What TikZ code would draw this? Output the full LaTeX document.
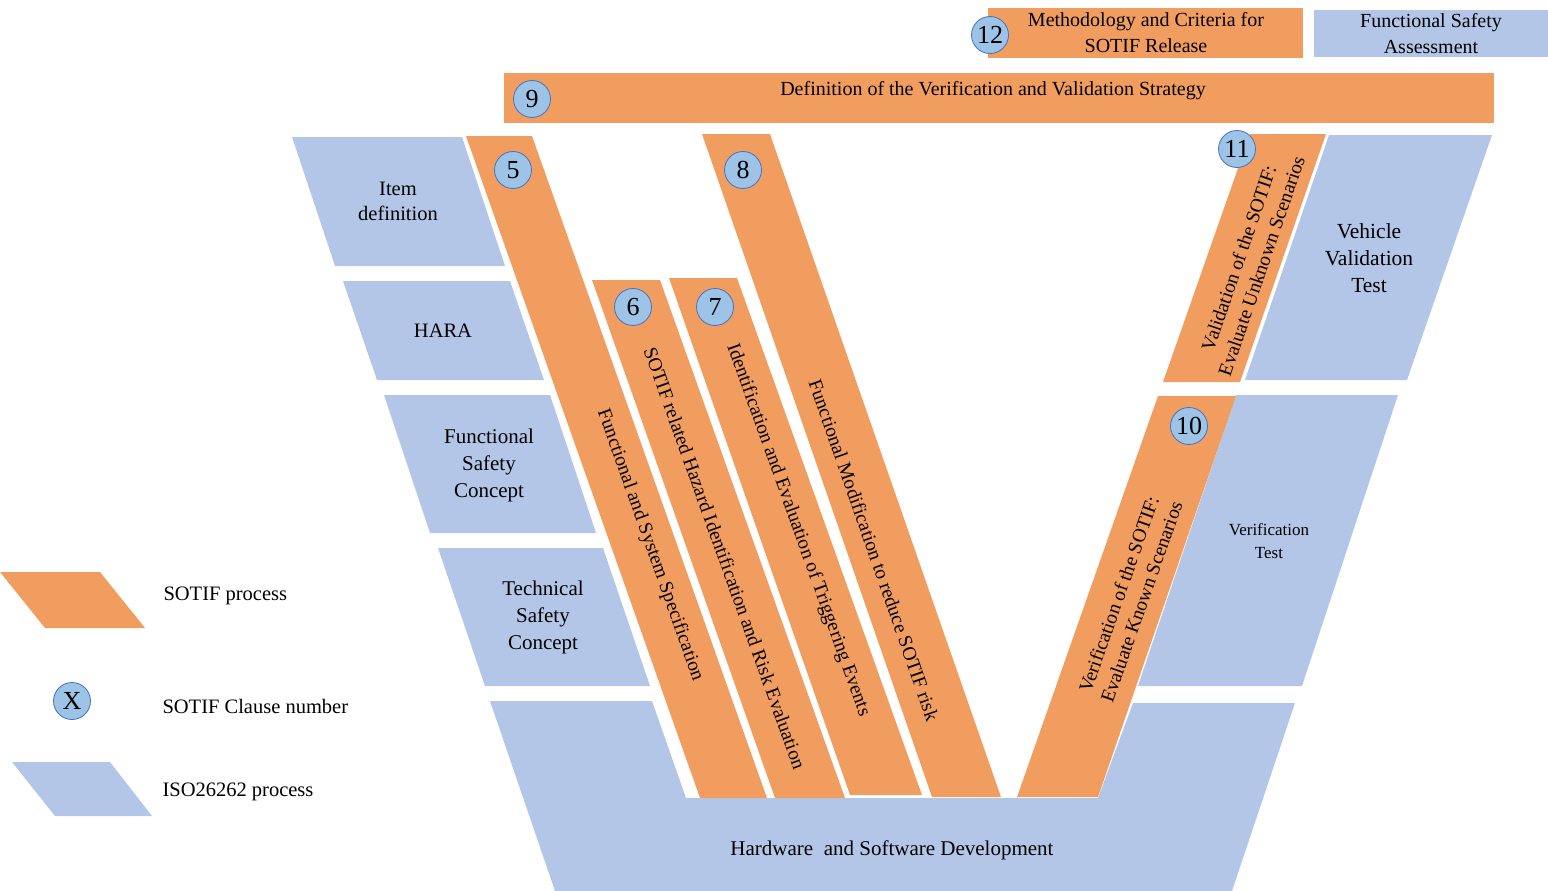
\documentclass[tikz,border=0pt]{standalone}
\usepackage{fontspec}
\setmainfont{Liberation Serif}
\begin{document}
\definecolor{org}{RGB}{241,157,95}
\definecolor{blu}{RGB}{180,198,231}
\definecolor{cfill}{RGB}{157,195,230}
\definecolor{cline}{RGB}{70,114,196}
\begin{tikzpicture}[x=1pt,y=-1pt,
  o/.style={fill=org,draw=none},
  b/.style={fill=blu,draw=none},
  num/.style={circle,fill=cfill,draw=cline,line width=0.8pt,minimum size=37pt,inner sep=0pt,font=\fontsize{26}{26}\selectfont},
  t/.style={font=\fontsize{20}{26}\selectfont,align=center},
  lg/.style={font=\fontsize{20.5}{25}\selectfont,anchor=west},
  d/.style={font=\fontsize{19.5}{24}\selectfont,align=center}]
\useasboundingbox (0,0) rectangle (1548,891);
% top boxes
\fill[o] (988,8) rectangle (1303,58);
\node[t] (t12) at (1146,33) {Methodology and Criteria for\\SOTIF Release};
\node[num] (c12) at (990,35) {12};
\fill[b] (1314,10) rectangle (1548,57);
\node[t] (fsa) at (1431,34) {Functional Safety\\Assessment};
\fill[o] (504,73) rectangle (1494,123);
\node[t] (t9) at (993,91) {Definition of the Verification and Validation Strategy};
\node[num] (c9) at (532,99) {9};
% left blue
\fill[b] (292,137) -- (462,137) -- (505,266) -- (335,266) -- cycle;
\node[t,font=\fontsize{20.5}{25}\selectfont] (id) at (398,201) {Item\\definition};
\fill[b] (343,281) -- (510,281) -- (544,380) -- (377,380) -- cycle;
\node[t,font=\fontsize{20.5}{25}\selectfont] (hara) at (443,331) {HARA};
\fill[b] (384,395) -- (550,395) -- (596,533) -- (430,533) -- cycle;
\node[t,font=\fontsize{21}{27}\selectfont] (fsc) at (489,465) {Functional\\Safety\\Concept};
\fill[b] (438,548) -- (603,548) -- (650,686) -- (485,686) -- cycle;
\node[t,font=\fontsize{21}{27}\selectfont] (tsc) at (543,617) {Technical\\Safety\\Concept};
% bottom
\fill[b] (490,701) -- (652,701) -- (686,798) -- (1098,798) -- (1133,703) -- (1295,703) -- (1232,891) -- (555,891) -- cycle;
\node[t,font=\fontsize{21}{26}\selectfont] (hw) at (892,850) {Hardware\ \ and Software Development};
% right blue
\fill[b] (1329,135) -- (1492,135) -- (1407,380) -- (1245,380) -- cycle;
\node[t,font=\fontsize{21.5}{27}\selectfont] (vvt) at (1369,258) {Vehicle\\Validation\\Test};
\fill[b] (1236,395) -- (1398,395) -- (1302,686) -- (1138,686) -- cycle;
\node[t,font=\fontsize{17}{23}\selectfont] (vt) at (1269,541) {Verification\\Test};
% orange diagonals
\fill[o] (466,136) -- (532,136) -- (767,798) -- (700,798) -- cycle;
\node[d,rotate=-70.5] (t5) at (650,545) {Functional and System Specification};
\node[num] (c5) at (513,170) {5};
\fill[o] (592,280) -- (660,280) -- (845,798) -- (775,798) -- cycle;
\node[d,rotate=-70.3] (t6) at (725,558) {SOTIF related Hazard Identification and Risk Evaluation};
\node[num] (c6) at (633,307) {6};
\fill[o] (669,278) -- (737,278) -- (922,795) -- (850,795) -- cycle;
\node[d,rotate=-70.3] (t7) at (798,530) {Identification and Evaluation of Triggering Events};
\node[num] (c7) at (715,307) {7};
\fill[o] (702,134) -- (770,134) -- (1001,797) -- (932,797) -- cycle;
\node[d,rotate=-70.8] (t8) at (874,550) {Functional Modification to reduce SOTIF risk};
\node[num] (c8) at (743,170) {8};
\fill[o] (1158,396) -- (1236,396) -- (1098,797) -- (1017,797) -- cycle;
\node[d,rotate=70.6] (t10) at (1130,598) {Verification of the SOTIF:\\Evaluate Known Scenarios};
\node[num] (c10) at (1189,426) {10};
\fill[o] (1250,134) -- (1326,134) -- (1240,382) -- (1163,382) -- cycle;
\node[d,rotate=71] (t11) at (1250,262) {Validation of the SOTIF:\\Evaluate Unknown Scenarios};
\node[num] (c11) at (1237,149) {11};
% legend
\fill[o] (0,572) -- (100,572) -- (145,628) -- (45,628) -- cycle;
\node[lg] (l1) at (160,596) {SOTIF process};
\node[num] (lx) at (72,701) {X};
\node[lg] (l2) at (159,706) {SOTIF Clause number};
\fill[b] (12,762) -- (110,762) -- (152,816) -- (55,816) -- cycle;
\node[lg] (l3) at (159,792) {ISO26262 process};
\end{tikzpicture}
\end{document}
